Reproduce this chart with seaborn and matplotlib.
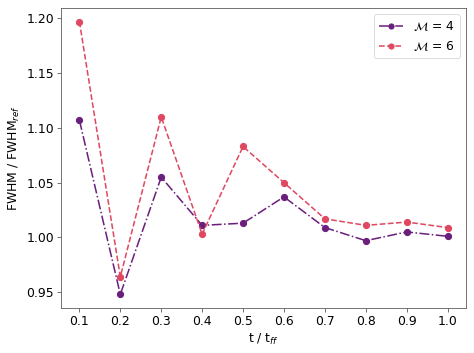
import matplotlib
matplotlib.use("Agg")
import matplotlib.pyplot as plt
import seaborn as sns
import pandas as pd

t = [0.1, 0.2, 0.3, 0.4, 0.5, 0.6, 0.7, 0.8, 0.9, 1.0]
m4 = [1.107, 0.948, 1.055, 1.011, 1.013, 1.037, 1.009, 0.997, 1.005, 1.001]
m6 = [1.197, 0.964, 1.110, 1.003, 1.083, 1.050, 1.017, 1.011, 1.014, 1.009]
labels = [r"$\mathcal{M}$ = 4", r"$\mathcal{M}$ = 6"]
yticks = [0.95, 1.00, 1.05, 1.10, 1.15, 1.20]

df = pd.DataFrame({"t": t * 2, "v": m4 + m6, "s": [labels[0]] * 10 + [labels[1]] * 10})

s = 0.74
plt.rcParams.update({
    "font.size": 12 * s,
    "axes.linewidth": 0.8 * s,
    "xtick.major.width": 0.8 * s,
    "ytick.major.width": 0.8 * s,
    "xtick.major.size": 3.5 * s,
    "ytick.major.size": 3.5 * s,
    "xtick.major.pad": 3.5 * s,
    "ytick.major.pad": 3.5 * s,
    "axes.labelpad": 4 * s,
    "axes.edgecolor": "0.35",
    "xtick.color": "0.35",
    "ytick.color": "0.35",
    "xtick.labelcolor": "black",
    "ytick.labelcolor": "black",
})
fig = plt.figure(figsize=(4.74, 3.53), dpi=100)
ax = fig.add_axes([61 / 474, 1 - 308 / 353, (466 - 61) / 474, (308 - 8) / 353])
colors = ["#6b1f7c", "#e04760"]
styles = ["-.", "--"]
for lab, c, ls in zip(labels, colors, styles):
    sub = df[df.s == lab]
    sns.lineplot(data=sub, x="t", y="v", ax=ax, color=c, marker="o", markersize=6 * s,
                 markeredgecolor=c, linestyle=ls, label=lab, lw=1.5 * s)
ax.set_xticks(t)
ax.set_yticks(yticks)
ax.set_xlabel(r"t / t$_{ff}$")
ax.set_ylabel(r"FWHM / FWHM$_{ref}$")
leg = ax.legend(loc="upper right")
leg.get_frame().set_linewidth(0.8 * s)
for h, ls in zip(leg.get_lines(), styles):
    h.set_linestyle(ls)
    h.set_markersize(5 * s)
fig.savefig("out.png", dpi=100)
